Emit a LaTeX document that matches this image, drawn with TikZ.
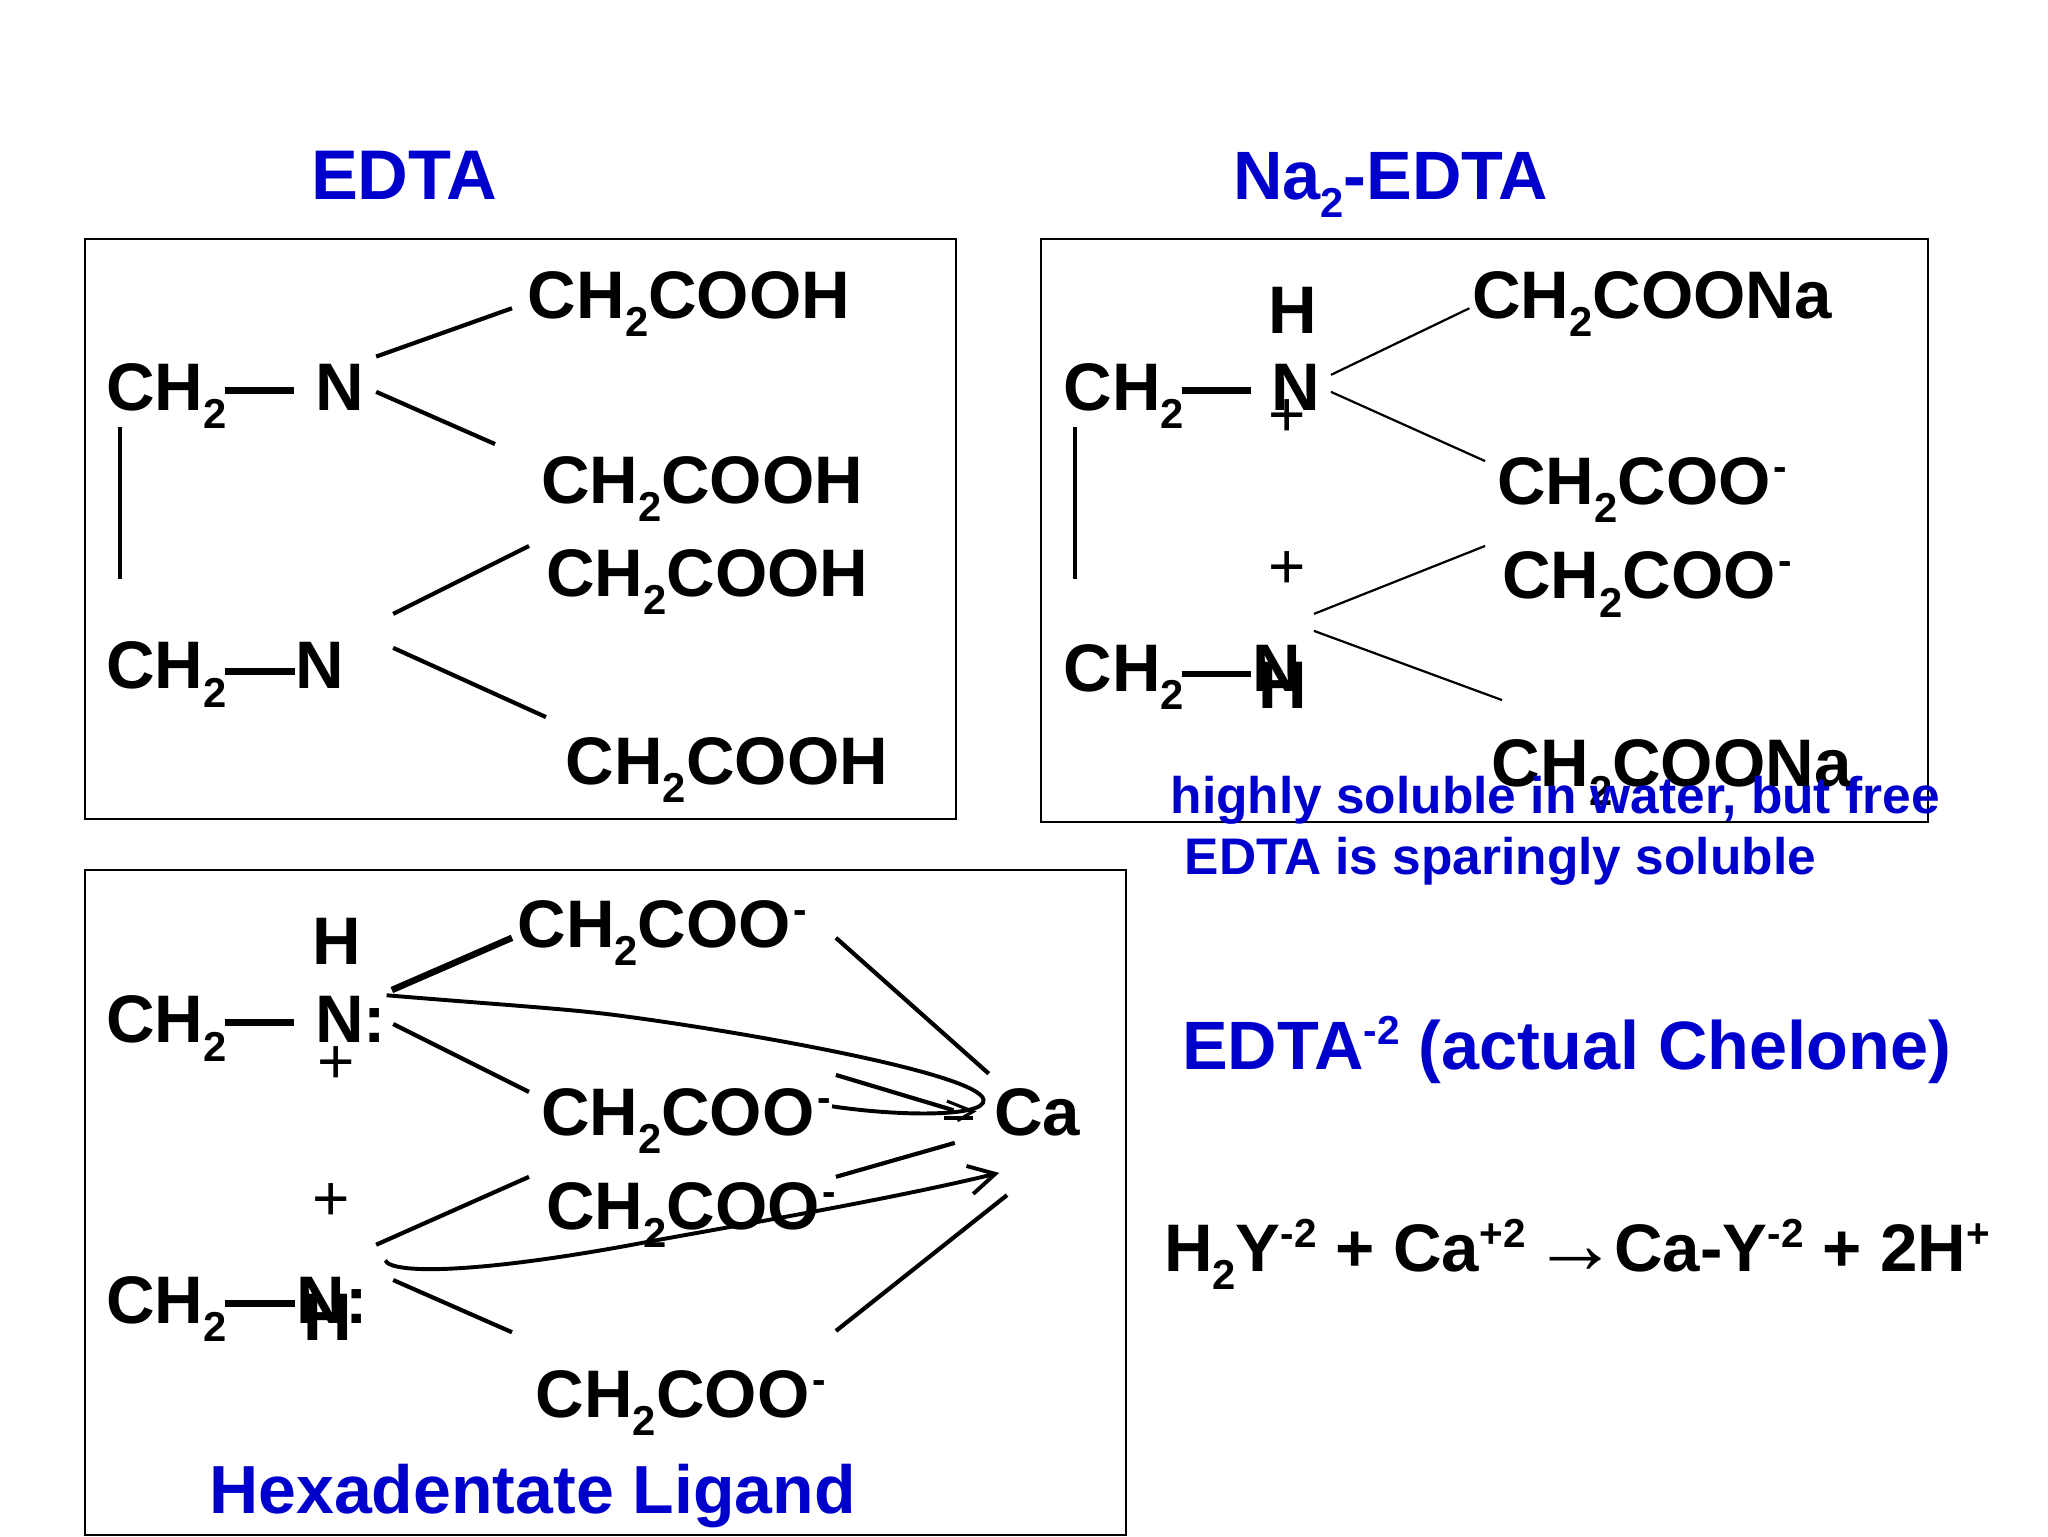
\documentclass[tikz,border=0pt]{standalone}
\usepackage{fontspec}
\setmainfont{Liberation Sans}
\usetikzlibrary{arrows.meta}
\newcommand\bsub[1]{\raisebox{-0.27em}{\fontsize{32}{32}\selectfont #1}}
\newcommand\bsup[1]{\raisebox{0.36em}{\fontsize{31}{31}\selectfont #1}}
\newcommand\bminus{\kern2pt\bsup{-}}
\newcommand\bondline[4][thickbond]{\coordinate (#2a) at (#3);\coordinate (#2b) at (#4);\draw[#1] (#2a) -- (#2b);}
\tikzset{
  x=1pt,y=-1pt,
  lab/.style={anchor=base west,inner sep=0pt,yshift=1.5pt,font=\fontsize{51.5}{60}\bfseries\selectfont,text=black},
  ttl/.style={lab,yshift=-2pt,text=ttlblue,font=\fontsize{52.4}{60}\bfseries\selectfont},
  ttlbig/.style={ttl,font=\fontsize{53.8}{60}\bfseries\selectfont},
  ttlsmall/.style={ttl,font=\fontsize{52.1}{60}\bfseries\selectfont},
  note/.style={lab,yshift=-2pt,text=ttlblue,font=\fontsize{39.4}{46}\bfseries\selectfont},
  plus/.style={lab,yshift=-2pt,font=\fontsize{49}{50}\selectfont},
  frame/.style={draw=black,line width=1.6pt,fill=none},
  thickbond/.style={line width=3.2pt,black},
  thinbond/.style={line width=1.7pt,black},
  heavybond/.style={line width=5pt,black},
  curved/.style={line width=3pt,black},
}
\definecolor{ttlblue}{RGB}{0,0,204}
\begin{document}
\begin{tikzpicture}
\useasboundingbox (0,0) rectangle (1568,1176);
\fill[white] (0,0) rectangle (1568,1176);
% frames
\draw[frame] (65,183) rectangle (732,627);
\draw[frame] (797,183) rectangle (1476,629);
\draw[frame] (65,666) rectangle (862,1175);
% titles
\node[ttlbig] (t1) at (238,152) {EDTA};
\node[ttl] (t2) at (944,152) {Na\bsub{2}-EDTA};
% EDTA box
\node[lab] (a1) at (404,245) {CH\bsub{2}COOH};
\node[lab] (a2) at (414,387) {CH\bsub{2}COOH};
\node[lab] (a3) at (418,458) {CH\bsub{2}COOH};
\node[lab] (a4) at (433,602) {CH\bsub{2}COOH};
\node[lab] (a5) at (81,316) {CH\bsub{2}};
\node[lab] (a6) at (241,316) {N};
\node[lab] (a7) at (81,529) {CH\bsub{2}};
\node[lab] (a8) at (226,529) {N};
\bondline[heavybond]{ab1}{172,299}{225,299}
\bondline[heavybond]{ab2}{172,514}{226,514}
\bondline{av}{92,327}{92,443}
\bondline{al1}{288,273}{392,236}
\bondline{al2}{288,300}{379,340}
\bondline{al3}{301,470}{405,418}
\bondline{al4}{301,496}{418,549}
% Na2 box
\node[lab] (b1) at (971,257) {H};
\node[lab] (b2) at (1127,245) {CH\bsub{2}COONa};
\node[lab] (b3) at (814,316) {CH\bsub{2}};
\node[lab] (b4) at (973,316) {N};
\node[plus] (b5) at (971,334) {+};
\node[plus] (b6) at (971,450) {+};
\node[lab] (b7) at (1146,388) {CH\bsub{2}COO\bminus};
\node[lab] (b8) at (1150,460) {CH\bsub{2}COO\bminus};
\node[lab] (b9) at (1142,604) {CH\bsub{2}COONa};
\node[lab] (b10) at (814,531) {CH\bsub{2}};
\node[lab] (b11) at (959,531) {N};
\node[lab] (b12) at (963,544) {H};
\bondline[heavybond]{bb1}{905,299}{958,299}
\bondline[heavybond]{bb2}{905,516}{958,516}
\bondline{bv}{823,327}{823,443}
\bondline[thinbond]{bl1}{1019,287}{1125,236}
\bondline[thinbond]{bl2}{1019,300}{1137,353}
\bondline[thinbond]{bl3}{1006,470}{1137,418}
\bondline[thinbond]{bl4}{1006,483}{1150,536}
\node[note] (n1) at (896,622) {highly soluble in water, but free};
\node[note] (n2) at (907,669) {EDTA is sparingly soluble};
% Chelate box
\node[lab] (c1) at (239,740) {H};
\node[lab] (c2) at (396,727) {CH\bsub{2}COO\bminus};
\node[lab] (c3) at (81,800) {CH\bsub{2}};
\node[lab] (c4) at (241,800) {N:};
\node[plus] (c5) at (243,829) {+};
\node[lab] (c6) at (414,871) {CH\bsub{2}COO\bminus};
\node[plus] (c7) at (239,934) {+};
\node[lab] (c8) at (418,943) {CH\bsub{2}COO\bminus};
\node[lab] (c9) at (81,1015) {CH\bsub{2}};
\node[lab] (c10) at (227,1015) {N:};
\node[lab] (c11) at (232,1028) {H};
\node[lab] (c12) at (410,1087) {CH\bsub{2}COO\bminus};
\node[lab] (ca) at (761,871) {Ca};
\node[ttlsmall] (t3) at (160,1158) {Hexadentate Ligand};
\bondline[heavybond]{cb1}{172,783}{225,783}
\bondline[heavybond]{cb2}{172,998}{226,998}
\bondline[heavybond]{cl1}{300,758}{392,718}
\bondline{cl2}{301,784}{405,836}
\bondline{cl3}{288,953}{405,901}
\bondline{cl4}{301,980}{392,1020}
\bondline{cl5}{640,718}{757,822}
\bondline{cl6}{640,823}{730,850}
\bondline{cl7}{640,901}{731,875}
\bondline{cl8}{640,1019}{771,915}
\bondline{cl9}{723,856}{745,856}
\coordinate (q1) at (296,762);
\coordinate (q2) at (637,847);
\draw[curved] (q1) .. controls (380,769) and (430,772) .. (470,777)
  .. controls (570,790) and (750,822) .. (753,842)
  .. controls (755,855) and (690,855) .. (q2);
\coordinate (r1) at (295,965);
\coordinate (r2) at (765,898);
\draw[curved,-{Straight Barb[length=20pt,width=22pt]}] (r1) .. controls (300,976) and (370,975) .. (500,950)
  .. controls (600,932) and (690,916) .. (r2);
\coordinate (s1) at (725,843);
\coordinate (s2) at (745,851);
\draw[line width=2.4pt] (s1) -- (s2) -- (733,858);
% right side
\node[ttl] (t4) at (905,818) {EDTA\bsup{-2} (actual Chelone)};
\node[lab,yshift=-1pt] (eq) at (891,974) {H\bsub{2}Y\bsup{-2} + Ca\bsup{+2}\kern5pt{\fontsize{66}{60}\mdseries\selectfont\raisebox{-0.02em}{→}}\kern-3pt Ca-Y\bsup{-2} + 2H\bsup{+}};
\end{tikzpicture}
\end{document}
